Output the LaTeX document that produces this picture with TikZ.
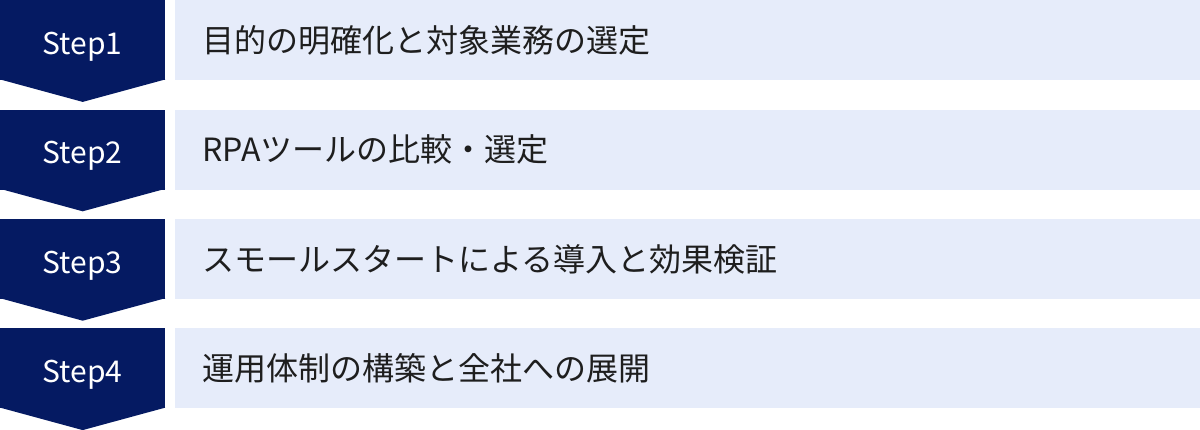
\documentclass[tikz,border=0pt]{standalone}
\usepackage{fontspec}
\setmainfont{Noto Sans CJK JP}
\usetikzlibrary{positioning, calc}

\definecolor{stepnavy}{HTML}{051A62}
\definecolor{barblue}{HTML}{E6ECFA}
\definecolor{bartext}{HTML}{1E1E1E}

\begin{document}
\begin{tikzpicture}[
            x=1pt, y=1pt,
            stepbox/.style={
                rectangle,
                fill=stepnavy,
                text=white,
                minimum height=80pt,
                minimum width=165pt,
                inner sep=0pt,
                text height=30pt,
                text depth=2pt,
                font=\fontsize{30}{34}\selectfont
            },
            bar/.style={
                rectangle,
                fill=barblue,
                text=bartext,
                minimum height=80pt,
                minimum width=1026pt,
                text width=970pt,
                inner xsep=28pt,
                inner ysep=0pt,
                text height=24pt,
                text depth=0pt,
                align=left,
                font=\fontsize{32}{36}\selectfont
            },
            tip/.style={fill=stepnavy}
        ]

        \useasboundingbox (0,0) rectangle (1200,-429);

        % Steps
        \node[stepbox, anchor=north west] (Step1) at (0,0) {Step1};
        \node[stepbox, below=29pt of Step1] (Step2) {Step2};
        \node[stepbox, below=29pt of Step2] (Step3) {Step3};
        \node[stepbox, below=29pt of Step3] (Step4) {Step4};

        % Bars
        \node[bar, right=9pt of Step1] (Task1) {目的の明確化と対象業務の選定};
        \node[bar, right=9pt of Step2] (Task2) {RPAツールの比較・選定};
        \node[bar, right=9pt of Step3] (Task3) {スモールスタートによる導入と効果検証};
        \node[bar, right=9pt of Step4] (Task4) {運用体制の構築と全社への展開};

        % Tips
        \fill[tip] ($(Step1.south west)+(0,1)$) -- ($(Step1.south east)+(0,1)$) -- ($(Step1.south)+(0,-21.5)$) -- cycle;
        \fill[tip] ($(Step2.south west)+(0,1)$) -- ($(Step2.south east)+(0,1)$) -- ($(Step2.south)+(0,-21.5)$) -- cycle;
        \fill[tip] ($(Step3.south west)+(0,1)$) -- ($(Step3.south east)+(0,1)$) -- ($(Step3.south)+(0,-21.5)$) -- cycle;
        \fill[tip] ($(Step4.south west)+(0,1)$) -- ($(Step4.south east)+(0,1)$) -- ($(Step4.south)+(0,-21.5)$) -- cycle;

        \end{tikzpicture}
\end{document}
